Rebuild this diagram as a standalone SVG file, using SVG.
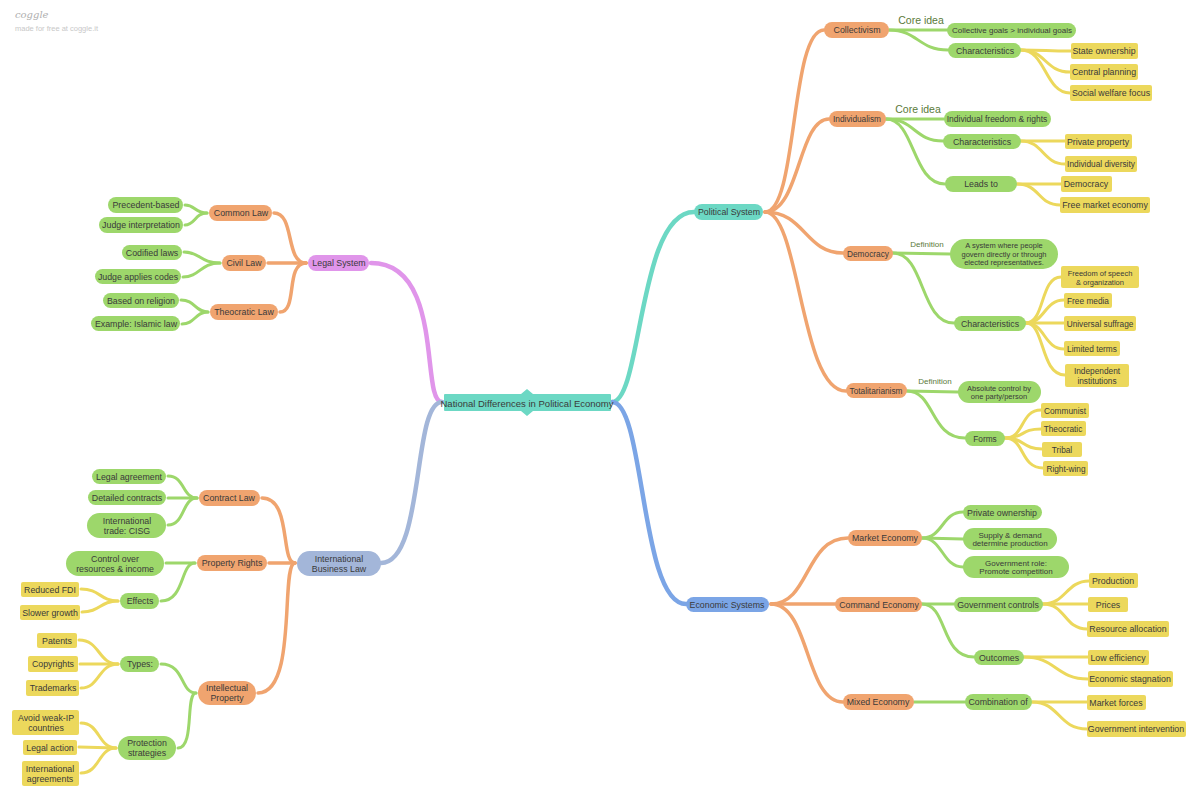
<svg xmlns="http://www.w3.org/2000/svg" width="1200" height="804" viewBox="0 0 1200 804">
<style>
text{font-family:"Liberation Sans",Arial,sans-serif;font-size:8.8px;fill:#3a3a3a;text-anchor:middle;dominant-baseline:central}
.or{fill:#f0a46f}.gr{fill:#9dd76b}.ye{fill:#ecd85c}.te{fill:#6cd8c4}.pk{fill:#e095ea}.bl{fill:#7ba5e6}.bg{fill:#a3b6d9}
#conn path{fill:none;stroke-linecap:round}
.co{stroke:#f0a46f;stroke-width:3.5}.cg{stroke:#9dd76b;stroke-width:3}.cy{stroke:#ecd85c;stroke-width:3}
.lbl{fill:#5a7a3a}
</style>
<rect width="1200" height="804" fill="#fff"/>
<text x="15" y="14" style="font-family:'DejaVu Serif',serif;font-style:italic;font-weight:normal;font-size:10px;fill:#b0b0b0;text-anchor:start">coggle</text>
<text x="15" y="28" style="font-size:7.5px;fill:#c8c8c8;text-anchor:start">made for free at coggle.it</text>
<g id="conn">
<path d="M612 402 C642 402 638 212 694 212" stroke="#6cd8c4" stroke-width="4.5"/>
<path d="M612 402 C645 402 640 604 686 604" stroke="#7ba5e6" stroke-width="4.5"/>
<path d="M442 402 C420 402 445 263 371 263" stroke="#e095ea" stroke-width="4.5"/>
<path d="M442 402 C412 402 425 563 381 563" stroke="#a3b6d9" stroke-width="4.5"/>
<path class="co" d="M765 212 C798 212 790 30 824 30"/>
<path class="co" d="M765 212 C800 212 798 119 829 119"/>
<path class="co" d="M765 212 C805 212 805 253 843 253"/>
<path class="co" d="M765 212 C800 212 800 391 846 391"/>
<path class="cg" d="M889 30 L947 30"/>
<path class="cg" d="M889 30 C918 30 918 50 948 50"/>
<path class="cy" d="M1021 50 C1046 50 1046 51 1071 51"/>
<path class="cy" d="M1021 50 C1046 50 1045 72 1070 72"/>
<path class="cy" d="M1021 50 C1046 50 1045 93 1070 93"/>
<path class="cg" d="M886 119 L944 119"/>
<path class="cg" d="M886 119 C915 119 914 141 943 141"/>
<path class="cg" d="M886 119 C915 119 912 184 945 184"/>
<path class="cy" d="M1021 141 L1065 141"/>
<path class="cy" d="M1021 141 C1043 141 1043 164 1065 164"/>
<path class="cy" d="M1017 184 L1061 184"/>
<path class="cy" d="M1017 184 C1040 184 1038 205 1060 205"/>
<path class="cg" d="M893 253 L950 254"/>
<path class="cg" d="M893 253 C925 253 920 323 954 323"/>
<path class="cy" d="M1026 323 C1045 323 1040 277 1061 277"/>
<path class="cy" d="M1026 323 C1045 323 1044 300 1064 300"/>
<path class="cy" d="M1026 323 L1064 323"/>
<path class="cy" d="M1026 323 C1045 323 1044 349 1064 349"/>
<path class="cy" d="M1026 323 C1045 323 1040 375 1065 375"/>
<path class="cg" d="M907 391 L958 392"/>
<path class="cg" d="M907 391 C935 391 930 438 965 438"/>
<path class="cy" d="M1005 438 C1025 438 1020 410 1041 410"/>
<path class="cy" d="M1005 438 C1025 438 1020 429 1041 429"/>
<path class="cy" d="M1005 438 C1025 438 1022 449 1042 449"/>
<path class="cy" d="M1005 438 C1025 438 1020 468 1043 468"/>
<path class="co" d="M771 604 C810 604 805 538 848 538"/>
<path class="co" d="M771 604 L835 604"/>
<path class="co" d="M771 604 C810 604 805 702 843 702"/>
<path class="cg" d="M922 538 C943 538 942 512 963 512"/>
<path class="cg" d="M922 538 L963 539"/>
<path class="cg" d="M922 538 C943 538 942 567 963 567"/>
<path class="cg" d="M922 604 L954 604"/>
<path class="cg" d="M922 604 C948 604 940 657 974 657"/>
<path class="cy" d="M1043 604 C1066 604 1066 581 1089 581"/>
<path class="cy" d="M1043 604 L1088 604"/>
<path class="cy" d="M1043 604 C1066 604 1064 629 1087 629"/>
<path class="cy" d="M1024 657 L1088 657"/>
<path class="cy" d="M1024 657 C1056 657 1056 679 1088 679"/>
<path class="cg" d="M914 702 L965 702"/>
<path class="cy" d="M1032 702 L1087 702"/>
<path class="cy" d="M1032 702 C1060 702 1058 729 1087 729"/>
<path class="co" d="M306 263 C285 263 295 213 274 213"/>
<path class="co" d="M306 263 L268 263"/>
<path class="co" d="M306 263 C285 263 298 312 280 312"/>
<path class="cg" d="M207 213 C195 213 195 205 185 205"/>
<path class="cg" d="M207 213 C195 213 195 225 185 225"/>
<path class="cg" d="M220 263 C200 263 200 252 184 252"/>
<path class="cg" d="M220 263 C200 263 200 277 183 277"/>
<path class="cg" d="M208 312 C195 312 195 300 181 300"/>
<path class="cg" d="M208 312 C195 312 195 324 182 324"/>
<path class="co" d="M295 563 C280 563 292 498 262 498"/>
<path class="co" d="M295 563 L269 563"/>
<path class="co" d="M295 563 C280 563 298 693 258 693"/>
<path class="cg" d="M197 498 C182 498 185 476 168 476"/>
<path class="cg" d="M197 498 L168 498"/>
<path class="cg" d="M197 498 C182 498 185 525 168 525"/>
<path class="cg" d="M195 563 L166 563"/>
<path class="cg" d="M195 563 C180 563 185 601 161 601"/>
<path class="cy" d="M118 601 C100 601 100 589 81 589"/>
<path class="cy" d="M118 601 C100 601 100 612 82 612"/>
<path class="cg" d="M196 693 C180 693 185 664 161 664"/>
<path class="cg" d="M196 693 C185 693 195 748 178 748"/>
<path class="cy" d="M118 664 C98 664 100 640 79 640"/>
<path class="cy" d="M118 664 L80 664"/>
<path class="cy" d="M118 664 C98 664 100 688 81 688"/>
<path class="cy" d="M116 748 C98 748 100 723 81 723"/>
<path class="cy" d="M116 748 L79 747"/>
<path class="cy" d="M116 748 C98 748 100 773 81 773"/>
</g>
<g id="edge-labels">
<text x="921" y="20" class="lbl" style="font-size:10.5px">Core idea</text>
<text x="918" y="109" class="lbl" style="font-size:10.5px">Core idea</text>
<text x="927" y="244" class="lbl" style="font-size:8px">Definition</text>
<text x="935" y="381" class="lbl" style="font-size:8px">Definition</text>
</g>
<g id="center"><rect class="te" x="444" y="394" width="167" height="17" rx="1"/><path class="te" d="M521 394 L527 389 L533 394 Z M521 411 L527 416 L533 411 Z"/><text x="527" y="403" style="font-size:9.5px">National Differences in Political Economy</text></g>
<g id="political"><rect class="te" x="694" y="204" width="69" height="16" rx="8"/><text x="729" y="212">Political System</text></g>
<g id="collectivism"><rect class="or" x="824" y="22" width="65" height="16" rx="8"/><text x="857" y="30">Collectivism</text></g>
<g id="coll-core"><rect class="gr" x="947" y="23" width="129" height="15" rx="7.5"/><text x="1012" y="30.5" style="font-size:8px">Collective goals &gt; individual goals</text></g>
<g id="coll-char"><rect class="gr" x="948" y="43" width="73" height="15" rx="7.5"/><text x="985" y="50.5">Characteristics</text></g>
<g id="state-own"><rect class="ye" x="1071" y="43" width="67" height="16" rx="2"/><text x="1104" y="51">State ownership</text></g>
<g id="central-plan"><rect class="ye" x="1070" y="64" width="68" height="16" rx="2"/><text x="1104" y="72">Central planning</text></g>
<g id="social-welfare"><rect class="ye" x="1070" y="85" width="82" height="16" rx="2"/><text x="1111" y="93">Social welfare focus</text></g>
<g id="individualism"><rect class="or" x="829" y="111" width="57" height="16" rx="8"/><text x="857" y="119" style="font-size:8.3px">Individualism</text></g>
<g id="ind-core"><rect class="gr" x="944" y="111" width="107" height="16" rx="8"/><text x="997" y="119" style="font-size:8.5px">Individual freedom &amp; rights</text></g>
<g id="ind-char"><rect class="gr" x="943" y="134" width="78" height="15" rx="7.5"/><text x="982" y="141.5">Characteristics</text></g>
<g id="priv-prop"><rect class="ye" x="1065" y="134" width="67" height="15" rx="2"/><text x="1098" y="141.5">Private property</text></g>
<g id="ind-div"><rect class="ye" x="1065" y="156" width="72" height="16" rx="2"/><text x="1101" y="164" style="font-size:8.3px">Individual diversity</text></g>
<g id="leads-to"><rect class="gr" x="945" y="176" width="72" height="16" rx="8"/><text x="981" y="184">Leads to</text></g>
<g id="lt-democracy"><rect class="ye" x="1061" y="176" width="51" height="16" rx="2"/><text x="1086" y="184">Democracy</text></g>
<g id="lt-free-market"><rect class="ye" x="1060" y="197" width="90" height="16" rx="2"/><text x="1105" y="205">Free market economy</text></g>
<g id="democracy"><rect class="or" x="843" y="246" width="50" height="15" rx="7.5"/><text x="868" y="253.5" style="font-size:8.3px">Democracy</text></g>
<g id="dem-def"><rect class="gr" x="950" y="239" width="108" height="30" rx="15"/><text x="1004" y="245.5" style="font-size:7.5px">A system where people</text><text x="1004" y="254" style="font-size:7.5px">govern directly or through</text><text x="1004" y="262.5" style="font-size:7.5px">elected representatives.</text></g>
<g id="dem-char"><rect class="gr" x="954" y="316" width="72" height="15" rx="7.5"/><text x="990" y="323.5">Characteristics</text></g>
<g id="freedom-speech"><rect class="ye" x="1061" y="266" width="78" height="22" rx="2"/><text x="1100" y="273" style="font-size:7.5px">Freedom of speech</text><text x="1100" y="282" style="font-size:7.5px">&amp; organization</text></g>
<g id="free-media"><rect class="ye" x="1064" y="293" width="48" height="15" rx="2"/><text x="1088" y="300.5" style="font-size:8.3px">Free media</text></g>
<g id="univ-suff"><rect class="ye" x="1064" y="316" width="72" height="15" rx="2"/><text x="1100" y="323.5" style="font-size:8.3px">Universal suffrage</text></g>
<g id="limited-terms"><rect class="ye" x="1064" y="341" width="56" height="15" rx="2"/><text x="1092" y="348.5" style="font-size:8.3px">Limited terms</text></g>
<g id="indep-inst"><rect class="ye" x="1065" y="364" width="64" height="23" rx="2"/><text x="1097" y="371" style="font-size:8.3px">Independent</text><text x="1097" y="380.5" style="font-size:8.3px">institutions</text></g>
<g id="totalitarianism"><rect class="or" x="846" y="383" width="61" height="15" rx="7.5"/><text x="876" y="390.5" style="font-size:8.3px">Totalitarianism</text></g>
<g id="tot-def"><rect class="gr" x="958" y="381" width="83" height="22" rx="11"/><text x="999" y="388" style="font-size:7.5px">Absolute control by</text><text x="999" y="396.5" style="font-size:7.5px">one party/person</text></g>
<g id="forms"><rect class="gr" x="965" y="431" width="40" height="15" rx="7.5"/><text x="985" y="438.5" style="font-size:8.3px">Forms</text></g>
<g id="communist"><rect class="ye" x="1041" y="403" width="48" height="15" rx="2"/><text x="1065" y="410.5" style="font-size:8.3px">Communist</text></g>
<g id="theocratic"><rect class="ye" x="1041" y="421" width="45" height="15" rx="2"/><text x="1063" y="428.5" style="font-size:8.3px">Theocratic</text></g>
<g id="tribal"><rect class="ye" x="1042" y="442" width="40" height="15" rx="2"/><text x="1062" y="449.5" style="font-size:8.3px">Tribal</text></g>
<g id="right-wing"><rect class="ye" x="1043" y="461" width="45" height="15" rx="2"/><text x="1066" y="468.5" style="font-size:8.3px">Right-wing</text></g>
<g id="economic"><rect class="bl" x="686" y="597" width="83" height="15" rx="7.5"/><text x="727" y="604.5">Economic Systems</text></g>
<g id="market-econ"><rect class="or" x="848" y="530" width="74" height="16" rx="8"/><text x="885" y="538">Market Economy</text></g>
<g id="private-own"><rect class="gr" x="963" y="505" width="79" height="15" rx="7.5"/><text x="1002" y="512.5">Private ownership</text></g>
<g id="supply-demand"><rect class="gr" x="963" y="528" width="94" height="22" rx="11"/><text x="1010" y="535" style="font-size:8px">Supply &amp; demand</text><text x="1010" y="543.5" style="font-size:8px">determine production</text></g>
<g id="gov-role"><rect class="gr" x="963" y="556" width="106" height="22" rx="11"/><text x="1016" y="563" style="font-size:8px">Government role:</text><text x="1016" y="571.5" style="font-size:8px">Promote competition</text></g>
<g id="command-econ"><rect class="or" x="835" y="597" width="87" height="15" rx="7.5"/><text x="879" y="604.5">Command Economy</text></g>
<g id="gov-controls"><rect class="gr" x="954" y="597" width="89" height="15" rx="7.5"/><text x="998" y="604.5">Government controls</text></g>
<g id="production"><rect class="ye" x="1089" y="573" width="49" height="15" rx="2"/><text x="1113" y="580.5">Production</text></g>
<g id="prices"><rect class="ye" x="1088" y="597" width="40" height="15" rx="2"/><text x="1108" y="604.5">Prices</text></g>
<g id="resource-alloc"><rect class="ye" x="1087" y="621" width="82" height="16" rx="2"/><text x="1128" y="629">Resource allocation</text></g>
<g id="outcomes"><rect class="gr" x="974" y="650" width="50" height="15" rx="7.5"/><text x="999" y="657.5">Outcomes</text></g>
<g id="low-eff"><rect class="ye" x="1088" y="650" width="61" height="15" rx="2"/><text x="1118" y="657.5">Low efficiency</text></g>
<g id="econ-stag"><rect class="ye" x="1088" y="671" width="85" height="16" rx="2"/><text x="1130" y="679">Economic stagnation</text></g>
<g id="mixed-econ"><rect class="or" x="843" y="694" width="71" height="16" rx="8"/><text x="878" y="702">Mixed Economy</text></g>
<g id="combination"><rect class="gr" x="965" y="694" width="67" height="16" rx="8"/><text x="998" y="702">Combination of</text></g>
<g id="market-forces"><rect class="ye" x="1087" y="695" width="59" height="15" rx="2"/><text x="1116" y="702.5">Market forces</text></g>
<g id="gov-interv"><rect class="ye" x="1087" y="721" width="99" height="16" rx="2"/><text x="1136" y="729">Government intervention</text></g>
<g id="legal"><rect class="pk" x="308" y="255" width="61" height="16" rx="8"/><text x="339" y="263">Legal System</text></g>
<g id="common-law"><rect class="or" x="209" y="205" width="63" height="16" rx="8"/><text x="241" y="213">Common Law</text></g>
<g id="precedent"><rect class="gr" x="108" y="197" width="75" height="16" rx="8"/><text x="146" y="205">Precedent-based</text></g>
<g id="judge-interp"><rect class="gr" x="99" y="217" width="84" height="16" rx="8"/><text x="141" y="225">Judge interpretation</text></g>
<g id="civil-law"><rect class="or" x="222" y="255" width="44" height="16" rx="8"/><text x="244" y="263">Civil Law</text></g>
<g id="codified"><rect class="gr" x="122" y="245" width="60" height="15" rx="7.5"/><text x="152" y="252.5">Codified laws</text></g>
<g id="judge-codes"><rect class="gr" x="95" y="269" width="86" height="15" rx="7.5"/><text x="138" y="276.5">Judge applies codes</text></g>
<g id="theocratic-law"><rect class="or" x="210" y="304" width="68" height="16" rx="8"/><text x="244" y="312">Theocratic Law</text></g>
<g id="religion"><rect class="gr" x="103" y="293" width="76" height="15" rx="7.5"/><text x="141" y="300.5">Based on religion</text></g>
<g id="islamic"><rect class="gr" x="91" y="316" width="89" height="15" rx="7.5"/><text x="136" y="323.5">Example: Islamic law</text></g>
<g id="ibl"><rect class="bg" x="297" y="551" width="84" height="25" rx="12.5"/><text x="339" y="558.5">International</text><text x="339" y="568.5">Business Law</text></g>
<g id="contract-law"><rect class="or" x="199" y="490" width="61" height="16" rx="8"/><text x="229" y="498">Contract Law</text></g>
<g id="legal-agree"><rect class="gr" x="92" y="469" width="74" height="15" rx="7.5"/><text x="129" y="476.5">Legal agreement</text></g>
<g id="detailed"><rect class="gr" x="88" y="490" width="78" height="15" rx="7.5"/><text x="127" y="497.5">Detailed contracts</text></g>
<g id="cisg"><rect class="gr" x="87" y="513" width="79" height="25" rx="12.5"/><text x="127" y="520.5">International</text><text x="127" y="530.5">trade: CISG</text></g>
<g id="property-rights"><rect class="or" x="197" y="555" width="70" height="16" rx="8"/><text x="232" y="563">Property Rights</text></g>
<g id="control-over"><rect class="gr" x="66" y="551" width="98" height="25" rx="12.5"/><text x="115" y="558.5">Control over</text><text x="115" y="568.5">resources &amp; income</text></g>
<g id="effects"><rect class="gr" x="120" y="593" width="39" height="16" rx="8"/><text x="140" y="601">Effects</text></g>
<g id="reduced-fdi"><rect class="ye" x="21" y="582" width="58" height="15" rx="2"/><text x="50" y="589.5">Reduced FDI</text></g>
<g id="slower-growth"><rect class="ye" x="20" y="605" width="60" height="15" rx="2"/><text x="50" y="612.5">Slower growth</text></g>
<g id="ip"><rect class="or" x="198" y="681" width="58" height="24" rx="12"/><text x="227" y="688">Intellectual</text><text x="227" y="698">Property</text></g>
<g id="types"><rect class="gr" x="120" y="656" width="39" height="16" rx="8"/><text x="140" y="664">Types:</text></g>
<g id="patents"><rect class="ye" x="37" y="633" width="40" height="15" rx="2"/><text x="57" y="640.5">Patents</text></g>
<g id="copyrights"><rect class="ye" x="28" y="656" width="50" height="16" rx="2"/><text x="53" y="664">Copyrights</text></g>
<g id="trademarks"><rect class="ye" x="26" y="680" width="53" height="16" rx="2"/><text x="53" y="688">Trademarks</text></g>
<g id="protection"><rect class="gr" x="118" y="736" width="58" height="24" rx="12"/><text x="147" y="743">Protection</text><text x="147" y="753">strategies</text></g>
<g id="avoid-weak"><rect class="ye" x="12" y="710" width="67" height="25" rx="2"/><text x="46" y="717.5">Avoid weak-IP</text><text x="46" y="727.5">countries</text></g>
<g id="legal-action"><rect class="ye" x="23" y="740" width="54" height="15" rx="2"/><text x="50" y="747.5">Legal action</text></g>
<g id="intl-agree"><rect class="ye" x="22" y="761" width="57" height="25" rx="2"/><text x="50" y="768.5">International</text><text x="50" y="778.5">agreements</text></g>
</svg>
